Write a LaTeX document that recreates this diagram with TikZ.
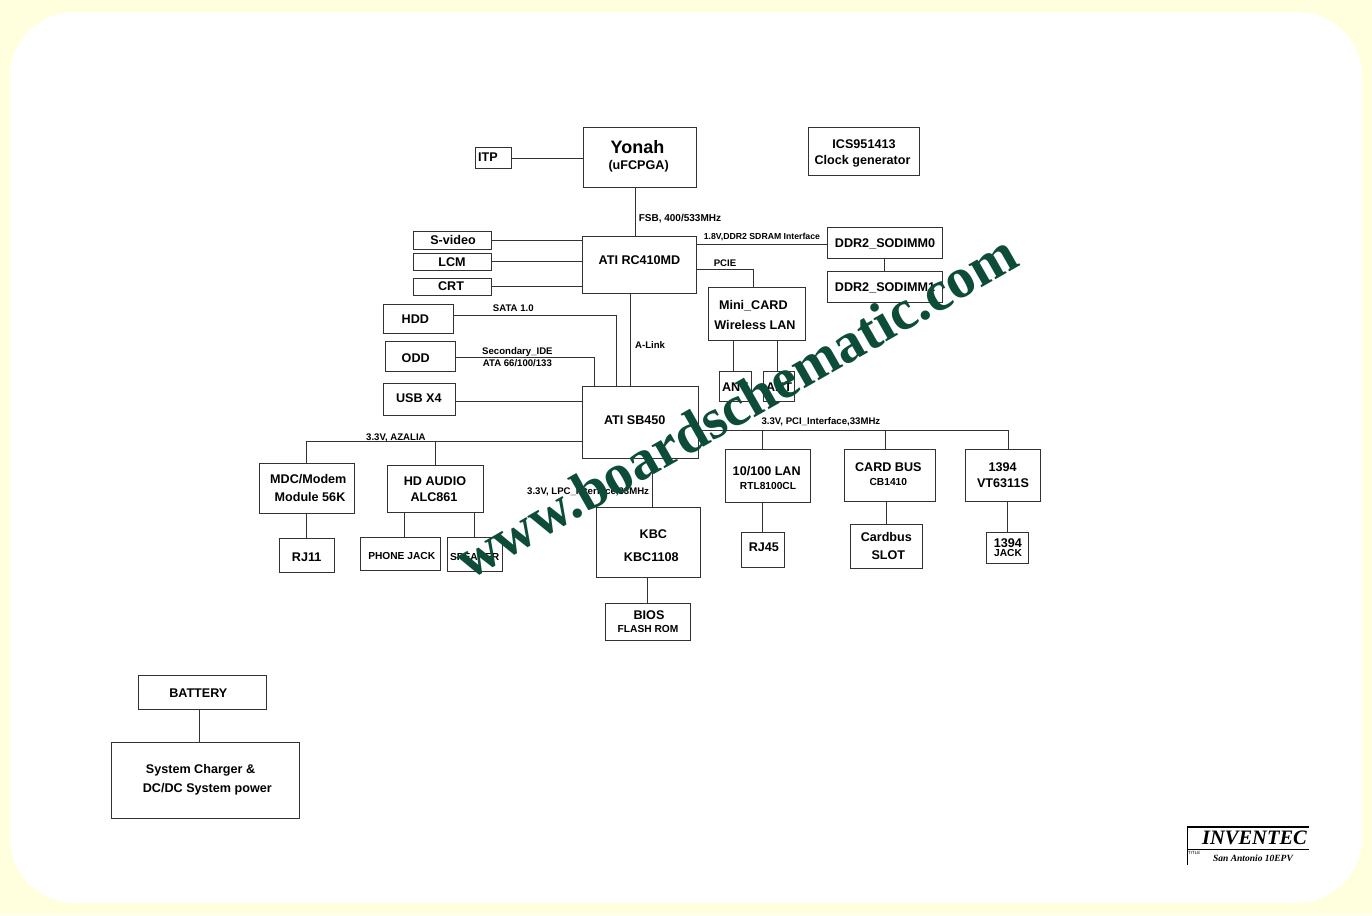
\documentclass[tikz,border=0pt]{standalone}
\usepackage{fontspec}
\setmainfont{Liberation Sans}
\newfontfamily\wmfont{Liberation Serif}
\newfontfamily\ttlfont{Liberation Serif}
\definecolor{bgyellow}{RGB}{255,255,222}
\definecolor{wmgreen}{RGB}{14,76,58}
\definecolor{ink}{RGB}{50,50,50}
\newcommand\mybox[5]{\node[box, minimum width={#4-#2}, minimum height={#5-#3}] (#1) at (#2,#3) {};}
\begin{document}
\begin{tikzpicture}[x=1pt,y=-1pt,
  box/.style={draw=ink, line width=1pt, anchor=north west, inner sep=0pt, outer sep=0pt},
  wire/.style={draw=ink, line width=1pt},
  tA/.style={font=\bfseries\fontsize{12.6}{14}\selectfont, inner sep=0pt, text height=9pt, text depth=0pt},
  tB/.style={font=\bfseries\fontsize{10.2}{12}\selectfont, inner sep=0pt, text height=7.3pt, text depth=0pt},
  lbl/.style={font=\bfseries\fontsize{9.6}{11}\selectfont, inner sep=0pt, text height=6.9pt, text depth=0pt, anchor=west},
]
% background
\fill[bgyellow] (0,0) rectangle (1372,915);
\fill[white, rounded corners=65pt] (10,12) rectangle (1362,903);
\useasboundingbox (0,0) rectangle (1372,915);

% boxes
\mybox{itp}{475}{147.5}{511}{168.5}
\mybox{yonah}{583}{127}{696}{187}
\mybox{ics}{808}{127}{919}{175}
\mybox{svideo}{413.5}{231.5}{491}{249}
\mybox{lcm}{413.5}{253}{491}{270}
\mybox{crt}{413.5}{278}{491}{295}
\mybox{rc}{582.5}{236.5}{696}{293.5}
\mybox{dimmA}{827}{227}{942.5}{258.5}
\mybox{dimmB}{827}{271.5}{942.5}{302.5}
\mybox{mini}{708.5}{287}{805}{340}
\mybox{antA}{719.5}{371.5}{751}{401}
\mybox{antB}{763.5}{371.5}{794.5}{401}
\mybox{hdd}{383.5}{304}{453.5}{333}
\mybox{odd}{385}{341.5}{455}{371}
\mybox{usb}{383.5}{383}{455}{415}
\mybox{sb}{582.5}{386.5}{698}{458}
\mybox{mdc}{259}{463}{354}{513}
\mybox{hda}{387}{465}{483}{512.5}
\mybox{rjA}{279.5}{538}{334.5}{572}
\mybox{phone}{360}{537}{440}{570.5}
\mybox{spk}{447}{537}{502}{571}
\mybox{kbc}{596.5}{507.5}{700.5}{577}
\mybox{bios}{605}{603}{690.5}{640.5}
\mybox{lan}{725}{449.5}{810}{502}
\mybox{rjB}{741}{532.5}{784}{567}
\mybox{cbus}{844}{449}{935.5}{501.5}
\mybox{slot}{850}{524}{922}{568}
\mybox{fw}{965.5}{449}{1040.5}{501}
\mybox{jack}{986}{532}{1028.5}{563}
\mybox{battery}{138.5}{675.5}{266.5}{709}
\mybox{charger}{111.5}{742.5}{299.5}{818.5}

% helper coordinates for bus positions
\coordinate (xFSB) at (635,0);
\coordinate (yDDR) at (0,244);
\coordinate (yPCIE) at (0,269.5);
\coordinate (xPCIE) at (753.5,0);
\coordinate (xAntA) at (733.5,0);
\coordinate (xAntB) at (777.5,0);
\coordinate (xAL) at (630,0);
\coordinate (ySATA) at (0,315.5);
\coordinate (xSATA) at (616.5,0);
\coordinate (yIDE) at (0,357.5);
\coordinate (xIDE) at (594,0);
\coordinate (yUSB) at (0,401);
\coordinate (yAZ) at (0,441);
\coordinate (xPJ) at (404,0);
\coordinate (xLPC) at (652.5,0);
\coordinate (yPCI) at (0,430.5);
\coordinate (xLAN) at (762,0);
\coordinate (xCB) at (885,0);
\coordinate (xFW) at (1008,0);
\coordinate (xBAT) at (199,0);

% connectors
\draw[wire] (itp.east) -- (itp.east -| yonah.west);
\draw[wire] (xFSB |- yonah.south) -- (xFSB |- rc.north);
\draw[wire] (svideo.east) -- (svideo.east -| rc.west);
\draw[wire] (lcm.east) -- (lcm.east -| rc.west);
\draw[wire] (crt.east) -- (crt.east -| rc.west);
\draw[wire] (yDDR -| rc.east) -- (yDDR -| dimmA.west);
\draw[wire] (dimmA.south) -- (dimmB.north);
\draw[wire] (yPCIE -| rc.east) -| (xPCIE |- mini.north);
\draw[wire] (xAntA |- mini.south) -- (xAntA |- antA.north);
\draw[wire] (xAntB |- mini.south) -- (xAntB |- antB.north);
\draw[wire] (xAL |- rc.south) -- (xAL |- sb.north);
\draw[wire] (ySATA -| hdd.east) -| (xSATA |- sb.north);
\draw[wire] (yIDE -| odd.east) -| (xIDE |- sb.north);
\draw[wire] (yUSB -| usb.east) -- (yUSB -| sb.west);
\draw[wire] (yAZ -| sb.west) -| (mdc.north);
\draw[wire] (hda.north |- yAZ) -- (hda.north);
\draw[wire] (mdc.south) -- (mdc.south |- rjA.north);
\draw[wire] (xPJ |- hda.south) -- (xPJ |- phone.north);
\draw[wire] (spk.north |- hda.south) -- (spk.north);
\draw[wire] (xLPC |- sb.south) -- (xLPC |- kbc.north);
\draw[wire] (bios.north |- kbc.south) -- (bios.north);
\draw[wire] (yPCI -| sb.east) -| (xFW |- fw.north);
\draw[wire] (xLAN |- yPCI) -- (xLAN |- lan.north);
\draw[wire] (xCB |- yPCI) -- (xCB |- cbus.north);
\draw[wire] (rjB.north |- lan.south) -- (rjB.north);
\draw[wire] (slot.north |- cbus.south) -- (slot.north);
\draw[wire] (jack.north |- fw.south) -- (jack.north);
\draw[wire] (xBAT |- battery.south) -- (xBAT |- charger.north);

% box texts
\node[tA] (tItp) at (488,156.5) {ITP};
\node[tA, font=\bfseries\fontsize{18}{20}\selectfont, text height=12.9pt] (tYonah) at (637.5,146.7) {Yonah};
\node[tA] (tFcpga) at (638.6,164.5) {(uFCPGA)};
\node[tA] (tIcs) at (864,144) {ICS951413};
\node[tA] (tClk) at (862.5,159.5) {Clock generator};
\node[tA] (tSv) at (453,239.8) {S-video};
\node[tA] (tLcm) at (452,261.7) {LCM};
\node[tA] (tCrt) at (451,286) {CRT};
\node[tA] (tRc) at (639.5,259.5) {ATI RC410MD};
\node[tA] (tDimmA) at (885,243.3) {DDR2\_SODIMM0};
\node[tA] (tDimmB) at (885,287.3) {DDR2\_SODIMM1};
\node[tA] (tMini) at (753.3,305) {Mini\_CARD};
\node[tA] (tWlan) at (755,325) {Wireless LAN};
\node[tA] (tAntA) at (735,386.7) {ANT};
\node[tA] (tAntB) at (779,386.7) {ANT};
\node[tA] (tHdd) at (415.3,319.3) {HDD};
\node[tA] (tOdd) at (415.7,357.7) {ODD};
\node[tA] (tUsb) at (418.8,398.3) {USB X4};
\node[tA] (tSb) at (634.7,420) {ATI SB450};
\node[tA] (tMdc) at (308.3,479) {MDC/Modem};
\node[tA] (tMod) at (310,497.3) {Module 56K};
\node[tA] (tHda) at (435,481) {HD AUDIO};
\node[tA] (tAlc) at (434,497.3) {ALC861};
\node[tA] (tRjA) at (306.7,557.3) {RJ11};
\node[tB] (tPhone) at (401.7,555.7) {PHONE JACK};
\node[tB] (tSpk) at (474.7,556.7) {SPEAKER};
\node[tA] (tKbc) at (653.3,534) {KBC};
\node[tA] (tKbcB) at (651.3,557) {KBC1108};
\node[tA] (tBios) at (649,615) {BIOS};
\node[tB] (tFlash) at (648,629) {FLASH ROM};
\node[tA] (tLan) at (766.7,470.7) {10/100 LAN};
\node[tB] (tRtl) at (768,486) {RTL8100CL};
\node[tA] (tRjB) at (763.8,546.7) {RJ45};
\node[tA] (tCbus) at (888.3,466.7) {CARD BUS};
\node[tB] (tCb) at (888.3,481.7) {CB1410};
\node[tA] (tCard) at (886.3,537.3) {Cardbus};
\node[tA] (tSlot) at (888.3,555) {SLOT};
\node[tA] (tFw) at (1002.7,466.7) {1394};
\node[tA] (tVt) at (1003,482.7) {VT6311S};
\node[tA] (tJackA) at (1007.8,542.7) {1394};
\node[tB] (tJackB) at (1008,553.3) {JACK};
\node[tA] (tBat) at (198.3,693.3) {BATTERY};
\node[tA, anchor=west] (tChg) at (145.7,769.3) {System Charger \&};
\node[tA, anchor=west] (tDc) at (142.7,788.3) {DC/DC System power};

% connector labels
\node[lbl, font=\bfseries\fontsize{10}{11}\selectfont] (lFsb) at (638.6,218.3) {FSB, 400/533MHz};
\node[lbl, font=\bfseries\fontsize{8.7}{10}\selectfont, text height=6.2pt] (lDdr) at (703.6,236.7) {1.8V,DDR2 SDRAM Interface};
\node[lbl] (lPcie) at (713.6,263) {PCIE};
\node[lbl] (lSata) at (492.7,308.3) {SATA 1.0};
\node[lbl] (lIde) at (482,351) {Secondary\_IDE};
\node[lbl] (lAta) at (482.7,362.7) {ATA 66/100/133};
\node[lbl] (lAl) at (635,344.7) {A-Link};
\node[lbl] (lAz) at (366,437) {3.3V, AZALIA};
\node[lbl] (lPci) at (761.4,420.7) {3.3V, PCI\_Interface,33MHz};
\node[lbl] (lLpc) at (527,491) {3.3V, LPC\_Interface,33MHz};

% title block
\draw[black, line width=1.5pt] (1187,827) -- (1309,827);
\draw[black, line width=1pt] (1187,827) -- (1187,865);
\draw[black, line width=1pt] (1187,849.5) -- (1309,849.5);
\node[font=\ttlfont\bfseries\itshape\fontsize{20.5}{22}\selectfont, inner sep=0pt, text height=13.6pt, text depth=0pt] (tInv) at (1254.5,838) {INVENTEC};
\node[font=\fontsize{4.5}{5}\selectfont, inner sep=0pt, anchor=west] (tTitle) at (1188,852.5) {TITLE};
\node[font=\ttlfont\bfseries\itshape\fontsize{9.5}{11}\selectfont, inner sep=0pt, text height=6.3pt, text depth=0pt] (tSan) at (1253,858.5) {San Antonio 10EPV};

% watermark
\node[font=\wmfont\bfseries\fontsize{57}{57}\selectfont, text=wmgreen, rotate=29.7, inner sep=0pt] (wm) at (736,406) {www.boardschematic.com};
\end{tikzpicture}
\end{document}
